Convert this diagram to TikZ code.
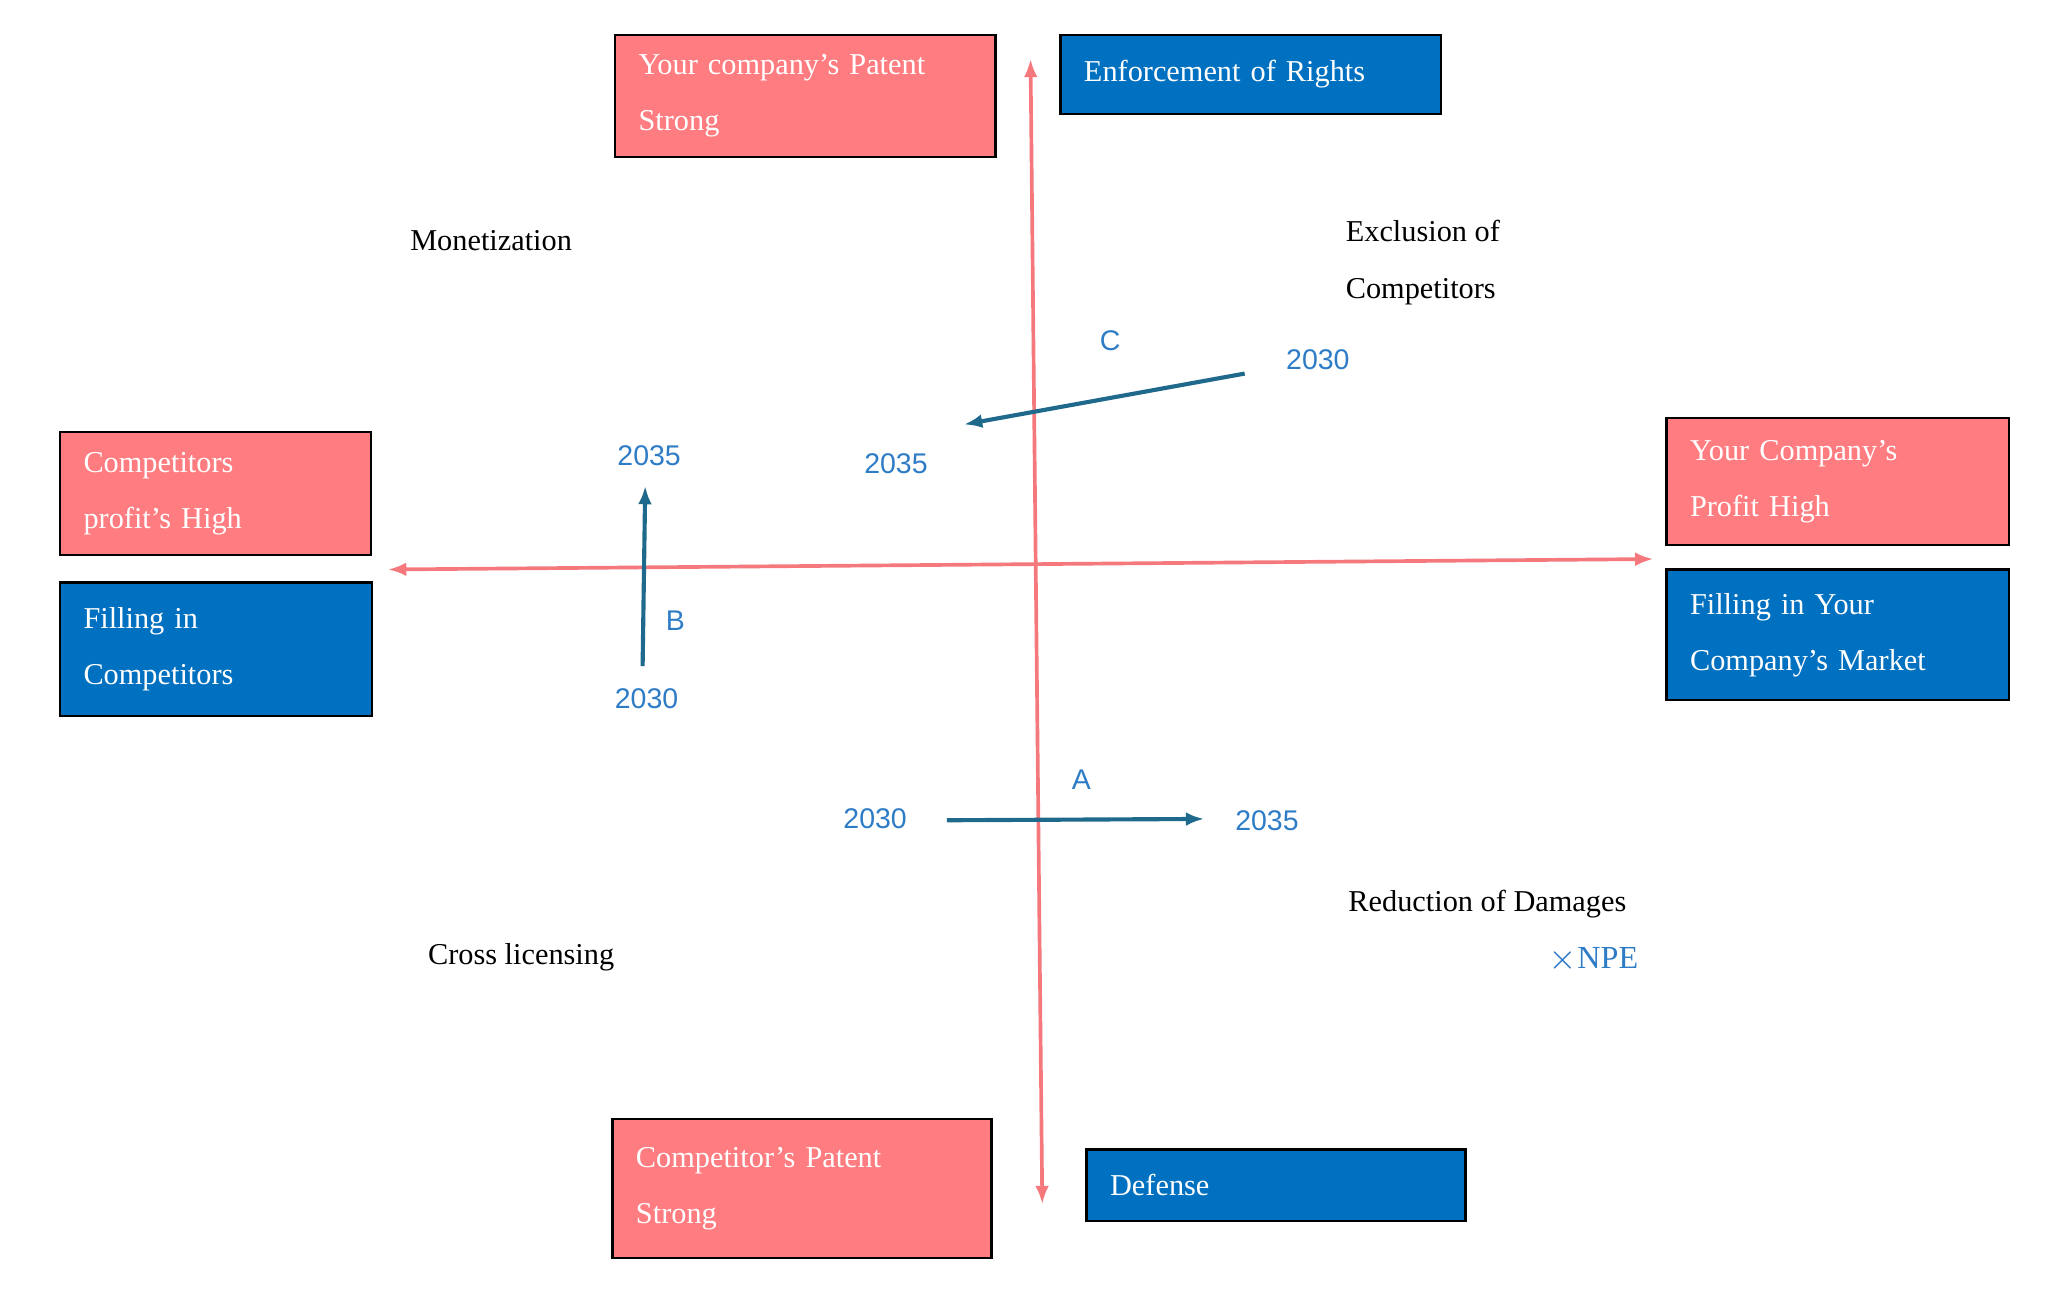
\documentclass[tikz,border=0pt]{standalone}
\usepackage{fontspec}
\setmainfont{Liberation Serif}
\newfontfamily\numfont{Liberation Sans}
\usetikzlibrary{arrows.meta}
\definecolor{pinkbox}{HTML}{FF7C80}
\definecolor{bluebox}{HTML}{0070C0}
\definecolor{axisred}{HTML}{F4787C}
\definecolor{arrowteal}{HTML}{1F6A8C}
\definecolor{labelblue}{HTML}{2E7CC6}
\tikzset{
  pinkcell/.style={draw=black, line width=0.5pt, fill=pinkbox, text=white, align=left, inner sep=0pt, font=\fontsize{6.6}{12.2}\selectfont},
  bluecell/.style={pinkcell, fill=bluebox},
  note/.style={font=\fontsize{6.6}{12.2}\selectfont, align=left},
  year/.style={text=labelblue, font=\numfont\fontsize{6.2}{8}\selectfont},
  axis/.style={draw=axisred, line width=0.8pt, {Latex[length=4pt]}-{Latex[length=4pt]}},
  trend/.style={draw=arrowteal, line width=0.9pt, -{Latex[length=4pt]}}
}
\begin{document}
\begin{tikzpicture}[x=0.01cm, y=-0.01cm]
  \useasboundingbox (0,0) rectangle (1568,993);

  % boxes
  \node[pinkcell, minimum width=2.91cm, minimum height=0.93cm, text width=2.55cm] (patentown) at (616.5,73.5) {Your company's Patent\\Strong};
  \node[bluecell, minimum width=2.91cm, minimum height=0.60cm, text width=2.55cm] (enforce) at (957.5,57) {Enforcement of Rights};
  \node[pinkcell, minimum width=2.38cm, minimum height=0.94cm, text width=2.02cm] (profitcomp) at (165,378) {Competitors\\profit's High};
  \node[bluecell, minimum width=2.39cm, minimum height=1.02cm, text width=2.03cm] (fillcomp) at (165.5,497) {Filling in\\Competitors};
  \node[pinkcell, minimum width=2.62cm, minimum height=0.97cm, text width=2.26cm] (profitown) at (1407,368.5) {Your Company's\\Profit High};
  \node[bluecell, minimum width=2.62cm, minimum height=1.00cm, text width=2.26cm] (fillown) at (1407,486) {Filling in Your\\Company's Market};
  \node[pinkcell, minimum width=2.90cm, minimum height=1.06cm, text width=2.54cm] (patentcomp) at (614,910) {Competitor's Patent\\Strong};
  \node[bluecell, minimum width=2.90cm, minimum height=0.55cm, text width=2.54cm] (defense) at (977,907.5) {Defense};

  % axes
  \coordinate (top) at (789,45);
  \coordinate (bottom) at (798,922);
  \coordinate (left) at (297,436);
  \coordinate (right) at (1266,428);
  \draw[axis] (top) -- (bottom);
  \draw[axis] (left) -- (right);

  % quadrant notes
  \node[note] (monet) at (376,184) {Monetization};
  \node[note, anchor=west] (exclu) at (1018,201) {Exclusion of\\Competitors};
  \node[note, anchor=west] (reduc) at (1020,692) {Reduction of Damages};
  \node[note] (cross) at (399,733) {Cross licensing};
  \node[year, font=\fontsize{7}{8}\selectfont] (npe) at (1220,735) {$\times$NPE};

  % trends
  \coordinate (cstart) at (953,286);
  \coordinate (cend) at (738,325);
  \draw[trend] (cstart) -- (cend);
  \node[year] (clab) at (850,261) {C};
  \node[year] (c30) at (1009,275) {2030};
  \node[year] (c35) at (686,355) {2035};

  \coordinate (bstart) at (492,510);
  \coordinate (bend) at (494,372);
  \draw[trend] (bstart) -- (bend);
  \node[year] (blab) at (517,475) {B};
  \node[year] (b30) at (495,535) {2030};
  \node[year] (b35) at (497,349) {2035};

  \coordinate (astart) at (725,628);
  \coordinate (aend) at (922,627);
  \draw[trend] (astart) -- (aend);
  \node[year] (alab) at (828,597) {A};
  \node[year] (a30) at (670,627) {2030};
  \node[year] (a35) at (970,628) {2035};
\end{tikzpicture}
\end{document}
